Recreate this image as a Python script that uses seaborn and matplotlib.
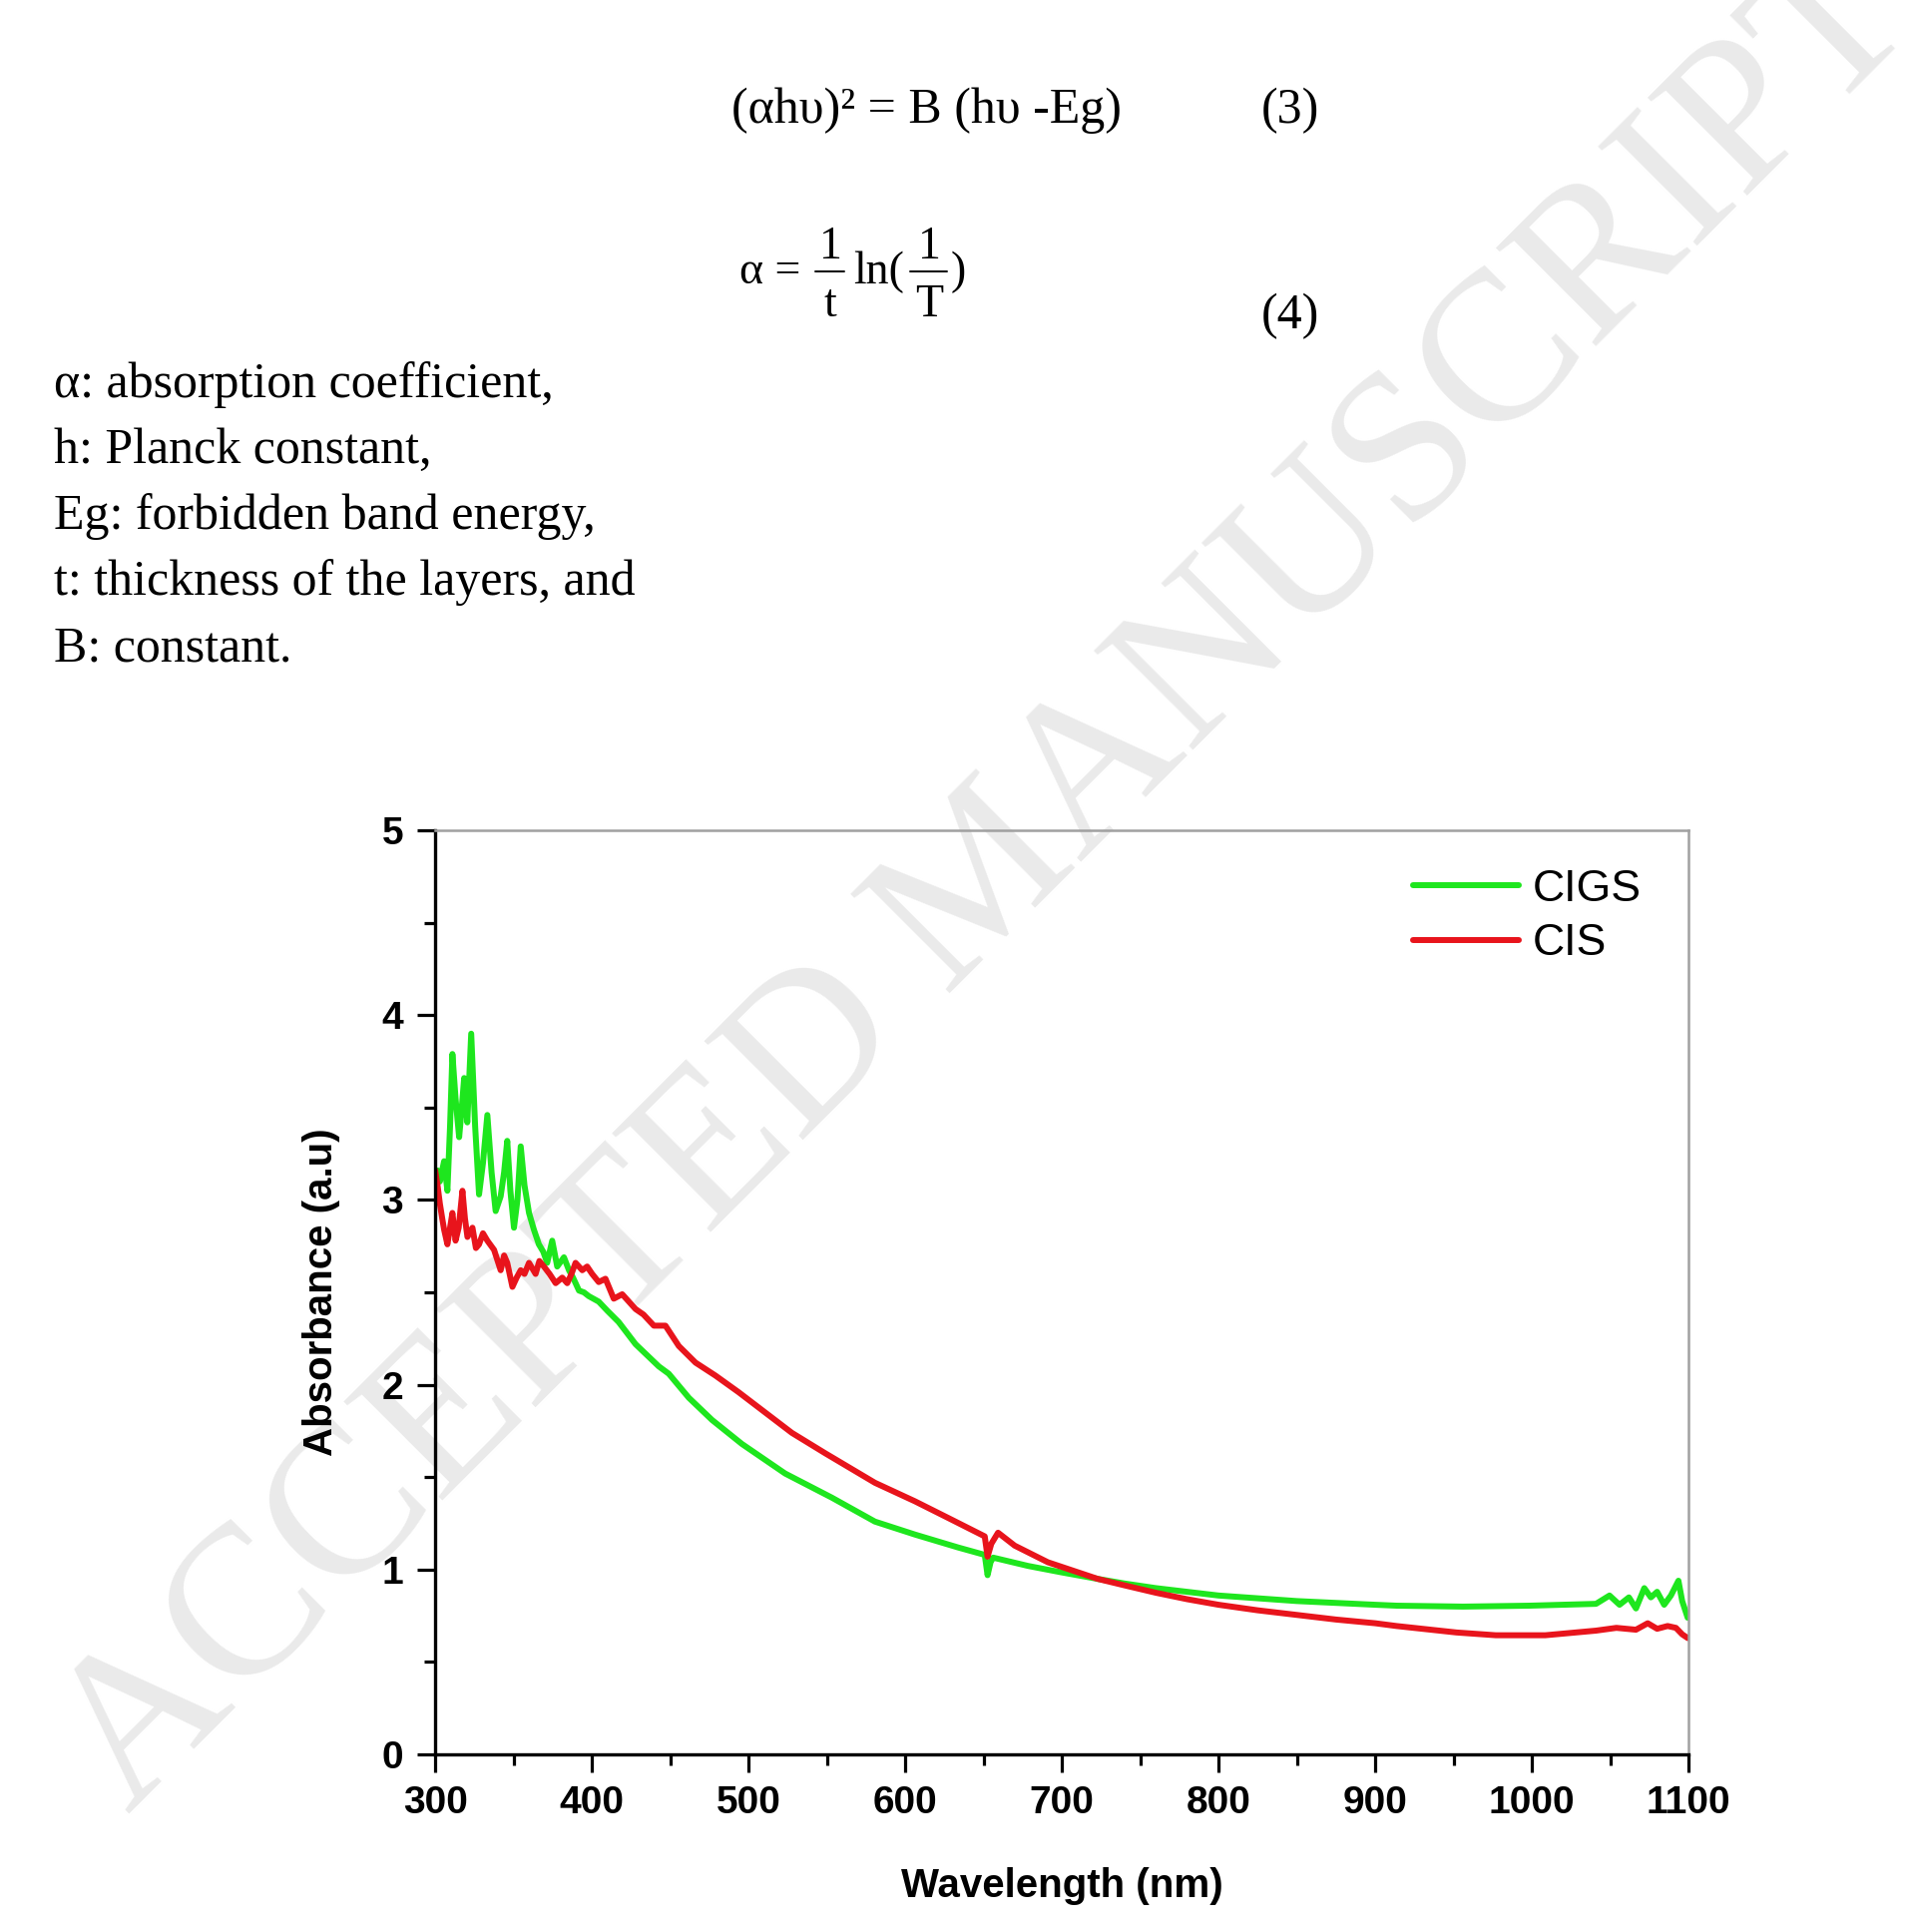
import numpy as np
import pandas as pd
import matplotlib
matplotlib.use('Agg')
import matplotlib.pyplot as plt
from matplotlib.lines import Line2D
from matplotlib.ticker import MultipleLocator
import seaborn as sns

# CIGS absorbance
cigs_wl = [300, 301.5, 303, 305.7, 307.8, 309.5, 311, 313, 315.3, 317, 318.5, 320.5, 323, 325.5,
           328, 330.5, 333.3, 336, 338.6, 341.8, 344, 346, 348, 350.3, 352.5, 354.6, 357, 359.9,
           363, 366.2, 369, 371.5, 374.7, 377.9, 382.2, 385.4, 388, 391.8, 395, 398, 404.4, 410,
           417.1, 427.9, 442.7, 449.1, 461.9, 476.7, 495.8, 523.4, 553.1, 580.7, 606.2, 633.8,
           650.8, 652.6, 654.5, 656.2, 678.5, 700, 722.9, 740, 760, 780, 800, 825, 850, 875, 900,
           913.6, 956, 998.5, 1041, 1049.6, 1056, 1062, 1066.5, 1071.8, 1076, 1080, 1084.5,
           1088.8, 1093.6, 1096, 1099.5, 1100]
cigs_abs = [3.12, 3.16, 3.10, 3.21, 3.05, 3.40, 3.79, 3.55, 3.34, 3.50, 3.66, 3.42, 3.90, 3.40,
            3.03, 3.20, 3.46, 3.15, 2.94, 3.02, 3.15, 3.32, 3.05, 2.85, 3.00, 3.29, 3.08, 2.93,
            2.84, 2.76, 2.72, 2.66, 2.78, 2.64, 2.69, 2.62, 2.58, 2.51, 2.50, 2.48, 2.45, 2.40,
            2.34, 2.22, 2.10, 2.06, 1.93, 1.81, 1.68, 1.52, 1.39, 1.26, 1.19, 1.12,
            1.08, 0.97, 1.04, 1.065, 1.02, 0.985, 0.95, 0.925, 0.90, 0.88, 0.86, 0.845, 0.83, 0.82, 0.81,
            0.805, 0.80, 0.805, 0.815, 0.86, 0.81, 0.85, 0.79, 0.90, 0.85, 0.88, 0.81,
            0.86, 0.94, 0.83, 0.74, 0.74]

# CIS absorbance
cis_wl = [300, 301.5, 303, 304.5, 305.7, 307.8, 309.5, 311, 313, 315, 317.4, 319, 320.6, 323.8,
          326, 328, 330.5, 333.3, 337.6, 339.5, 341.8, 344, 346, 349.3, 352, 354.6, 357, 359.9,
          364.1, 366.5, 369.4, 373, 376.9, 381.1, 384.3, 387, 389.6, 393.9, 397, 400.2, 404.4,
          408.7, 414, 419.4, 427.9, 433, 439.6, 447, 455.5, 466.2, 478.9, 493.7, 510.7, 527.7,
          548.9, 580.7, 606.2, 627.4, 650.8, 652.6, 655, 659.3, 669.9, 691.1, 722.9, 740, 760,
          780, 800, 825, 850, 875, 900, 913.6, 951.9, 977, 1008.6, 1041, 1054, 1066.5, 1074,
          1080, 1086.7, 1092, 1096, 1099.5, 1100]
cis_abs = [3.16, 3.08, 2.98, 2.90, 2.84, 2.76, 2.85, 2.93, 2.78, 2.85, 3.05, 2.90, 2.80, 2.85,
           2.74, 2.76, 2.82, 2.78, 2.73, 2.68, 2.62, 2.70, 2.66, 2.53, 2.58, 2.62, 2.60, 2.66,
           2.60, 2.67, 2.64, 2.60, 2.55, 2.58, 2.55, 2.60, 2.66, 2.62, 2.64, 2.60, 2.556,
           2.574, 2.466, 2.49, 2.41, 2.38, 2.32, 2.32, 2.21, 2.12, 2.05, 1.96, 1.85, 1.74,
           1.63, 1.47, 1.37, 1.28, 1.18, 1.07, 1.14, 1.20, 1.13, 1.04, 0.95, 0.915, 0.875,
           0.84, 0.81, 0.78, 0.755, 0.73, 0.71, 0.695, 0.66, 0.645, 0.645, 0.67, 0.685, 0.675, 0.71,
           0.68, 0.695, 0.685, 0.65, 0.63, 0.63]

samples = ['CIGS', 'CIS']
colors = {'CIGS': '#1ee61e', 'CIS': '#e8141c'}

df = pd.concat([
    pd.DataFrame({'wl': cigs_wl, 'abs': cigs_abs, 'sample': 'CIGS'}),
    pd.DataFrame({'wl': cis_wl, 'abs': cis_abs, 'sample': 'CIS'}),
], ignore_index=True)

sns.set_style('ticks')
plt.rcParams['font.family'] = ['Liberation Sans', 'DejaVu Sans']
for key in ['text.color', 'axes.labelcolor', 'xtick.color', 'ytick.color']:
    plt.rcParams[key] = 'black'

W, H = 1911, 1936
fig = plt.figure(figsize=(W / 100, H / 100), dpi=100)
fig.patch.set_facecolor('white')


def px(x, y):
    # page pixel position -> figure fraction
    return x / W, 1 - y / H


# page text above the chart
serif = ['Liberation Serif', 'DejaVu Serif']
fig.text(*px(733, 111), '(αhυ)² = B (hυ -Eg)', fontsize=36, family=serif, va='center')
fig.text(*px(1264, 111), '(3)', fontsize=36, family=serif, va='center')

# equation (4), written as stacked pieces
eq = dict(fontsize=33, family=serif)
fig.text(*px(741, 284), 'α =', va='baseline', **eq)
fig.text(*px(832, 259), '1', ha='center', va='baseline', **eq)
fig.text(*px(832, 317), 't', ha='center', va='baseline', **eq)
fig.text(*px(855, 284), 'ln(', va='baseline', **eq)
fig.text(*px(931, 259), '1', ha='center', va='baseline', **eq)
fig.text(*px(931, 317), 'T', ha='center', va='baseline', **eq)
fig.text(*px(953, 284), ')', va='baseline', **eq)
for x0, x1 in [(817, 846), (912, 949)]:
    fig.add_artist(Line2D([x0 / W, x1 / W], [1 - 272 / H] * 2, color='black', lw=1.4,
                          transform=fig.transFigure))
fig.text(*px(1264, 317), '(4)', fontsize=36, family=serif, va='center')

defs = ['α: absorption coefficient,', 'h: Planck constant,', 'Eg: forbidden band energy,',
        't: thickness of the layers, and', 'B: constant.']
for i, line in enumerate(defs):
    fig.text(*px(54, 386 + i * 66), line, fontsize=36, family=serif, va='center')

# watermark
fig.text(0.518, 0.543, 'ACCEPTED MANUSCRIPT', rotation=45, fontsize=154, family=serif,
         color='#eaeaea', ha='center', va='center', rotation_mode='anchor', zorder=-1)

ax = fig.add_axes([0.2282, 0.0919, 0.6572, 0.4783])
ax.patch.set_alpha(0)

sns.lineplot(data=df, x='wl', y='abs', hue='sample', hue_order=samples, palette=colors,
             estimator=None, linewidth=4.3, ax=ax)

ax.set_xlim(300, 1100)
ax.set_ylim(0, 5)
ax.xaxis.set_major_locator(MultipleLocator(100))
ax.xaxis.set_minor_locator(MultipleLocator(50))
ax.yaxis.set_major_locator(MultipleLocator(1))
ax.yaxis.set_minor_locator(MultipleLocator(0.5))

for side in ['left', 'bottom']:
    ax.spines[side].set_color('black')
    ax.spines[side].set_linewidth(2.4)
for side in ['top', 'right']:
    ax.spines[side].set_color('#a0a0a0')
    ax.spines[side].set_linewidth(1.8)

ax.tick_params(which='major', direction='out', length=13, width=2.3, labelsize=28)
ax.tick_params(which='minor', direction='out', length=8, width=2.3)
ax.tick_params(axis='x', which='major', pad=9)
ax.tick_params(axis='y', which='major', pad=10)
for lab in ax.get_xticklabels() + ax.get_yticklabels():
    lab.set_fontweight('bold')

ax.set_xlabel('Wavelength (nm)', fontsize=29, fontweight='bold')
ax.set_ylabel('Absorbance (a.u)', fontsize=29, fontweight='bold')
ax.xaxis.set_label_coords(0.5, -0.122)
ax.yaxis.set_label_coords(-0.076, 0.5)

handles, labels = ax.get_legend_handles_labels()
leg = ax.legend(handles, labels, loc='upper left', bbox_to_anchor=(0.780, 0.958),
                frameon=False, fontsize=32, handlelength=2.4, handletextpad=0.3,
                labelspacing=0.3, borderpad=0, borderaxespad=0)
for h in leg.get_lines():
    h.set_linewidth(4.3)

fig.savefig('out.png', dpi=100)
